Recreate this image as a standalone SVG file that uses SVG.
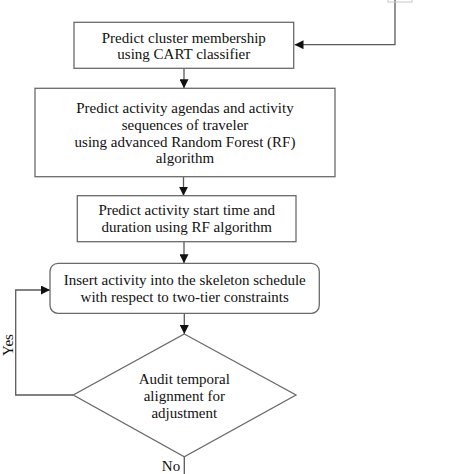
<svg xmlns="http://www.w3.org/2000/svg" width="474" height="474" viewBox="0 0 474 474">
<defs>
<style>
.box{fill:#fff;stroke:#6a6a6a;stroke-width:1.3}
.ln{fill:none;stroke:#5a5a5a;stroke-width:1.3}
.t{font-family:"Liberation Serif","Times New Roman",serif;font-size:15px;fill:#111;text-anchor:middle;dominant-baseline:central}
</style>
<marker id="ah" viewBox="0 0 10 10" refX="10" refY="5" markerWidth="9" markerHeight="9" markerUnits="userSpaceOnUse" orient="auto">
<path d="M0,0 L10,5 L0,10 Z" fill="#111"/>
</marker>
</defs>
<rect width="474" height="474" fill="#fff"/>
<g id="connectors">
<polyline class="ln" points="395,0 395,44.7 294.5,44.7" marker-end="url(#ah)"/>
<line class="ln" x1="184" y1="68.3" x2="184" y2="88.3" marker-end="url(#ah)"/>
<line class="ln" x1="183.5" y1="176.7" x2="183.5" y2="195.7" marker-end="url(#ah)"/>
<line class="ln" x1="184" y1="241.7" x2="184" y2="263.3" marker-end="url(#ah)"/>
<line class="ln" x1="184.3" y1="313.3" x2="184.3" y2="334" marker-end="url(#ah)"/>
<polyline class="ln" points="73.3,395 15.7,395 15.7,290 50,290" marker-end="url(#ah)"/>
<line class="ln" x1="184.3" y1="456.7" x2="184.3" y2="474"/>
<text class="t" transform="translate(8,345) rotate(-90)">Yes</text>
<text class="t" x="171" y="466">No</text>
</g>
<g id="top-node">
<rect x="388" y="-20" width="24" height="22" fill="none" stroke="#c8c8c8" stroke-width="1"/>
</g>
<g id="cluster">
<rect class="box" x="74" y="22.3" width="219.7" height="46"/>
<text class="t" x="183.8" y="37.7">Predict cluster membership</text>
<text class="t" x="183.8" y="54.3">using CART classifier</text>
</g>
<g id="agenda">
<rect class="box" x="35" y="88.3" width="300" height="88.4"/>
<text class="t" x="185" y="107.7">Predict activity agendas and activity</text>
<text class="t" x="185" y="125">sequences of traveler</text>
<text class="t" x="185" y="141.7">using advanced Random Forest (RF)</text>
<text class="t" x="185" y="158.3">algorithm</text>
</g>
<g id="starttime">
<rect class="box" x="77.3" y="195.7" width="218.7" height="46"/>
<text class="t" x="186.7" y="210">Predict activity start time and</text>
<text class="t" x="186.7" y="227.3">duration using RF algorithm</text>
</g>
<g id="insert">
<rect class="box" x="50" y="263.3" width="269.3" height="50" rx="8" ry="8"/>
<text class="t" x="184.7" y="280">Insert activity into the skeleton schedule</text>
<text class="t" x="184.7" y="297.3">with respect to two-tier constraints</text>
</g>
<g id="audit">
<polygon class="box" points="184.3,334 296,395 184.3,456.7 73.3,395"/>
<text class="t" x="184.3" y="379.3">Audit temporal</text>
<text class="t" x="184.3" y="396">alignment for</text>
<text class="t" x="184.3" y="412.7">adjustment</text>
</g>
</svg>
